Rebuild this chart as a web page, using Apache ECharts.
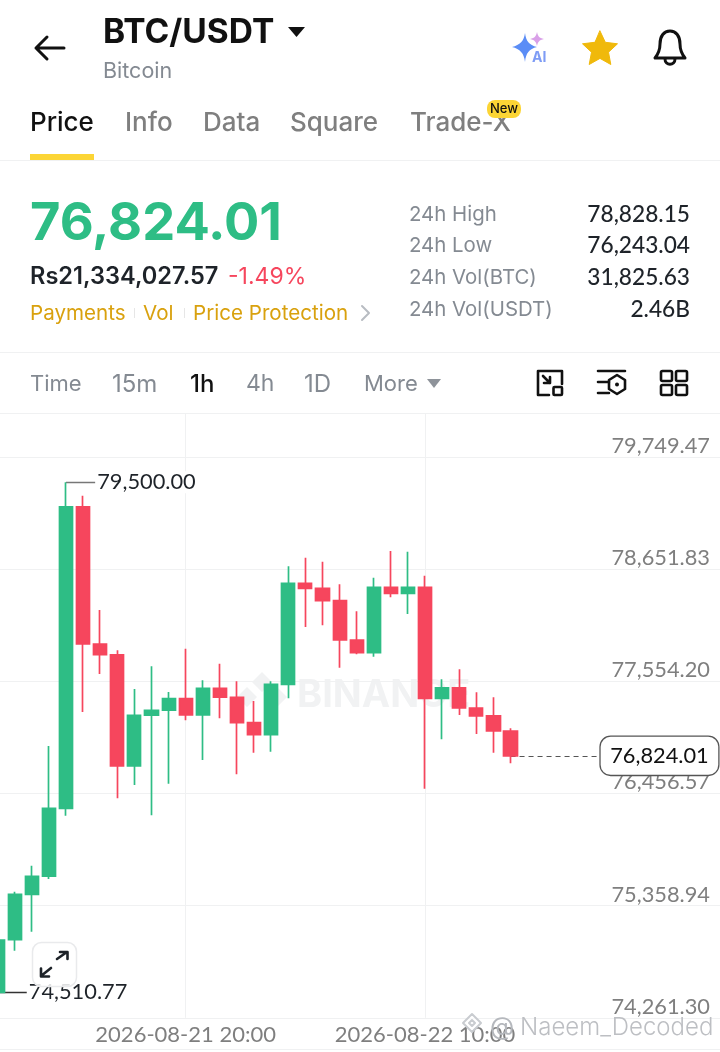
<!DOCTYPE html>
<html><head><meta charset="utf-8">
<style>html,body{margin:0;padding:0;background:#fff}#c{width:720px;height:1052px}</style>
<script src="https://cdn.jsdelivr.net/npm/echarts@6/dist/echarts.min.js"></script>
</head><body><div id="c"></div>
<script>
const categories = [
'2026-08-21 09:00','2026-08-21 10:00','2026-08-21 11:00','2026-08-21 12:00','2026-08-21 13:00','2026-08-21 14:00',
'2026-08-21 15:00','2026-08-21 16:00','2026-08-21 17:00','2026-08-21 18:00','2026-08-21 19:00','2026-08-21 20:00',
'2026-08-21 21:00','2026-08-21 22:00','2026-08-21 23:00','2026-08-22 00:00','2026-08-22 01:00','2026-08-22 02:00',
'2026-08-22 03:00','2026-08-22 04:00','2026-08-22 05:00','2026-08-22 06:00','2026-08-22 07:00','2026-08-22 08:00',
'2026-08-22 09:00','2026-08-22 10:00','2026-08-22 11:00','2026-08-22 12:00','2026-08-22 13:00','2026-08-22 14:00',
'2026-08-22 15:00','2026-08-22 16:00','2026-08-22 17:00','2026-08-22 18:00','2026-08-22 19:00','2026-08-22 20:00',
'2026-08-22 21:00','2026-08-22 22:00','2026-08-22 23:00','2026-08-23 00:00','2026-08-23 01:00','2026-08-23 02:00','2026-08-23 03:00'];
const opens  = [74510.77,75025,75469,75646,76311,79261,77918,77813,76725,77221,77270,77383,77224,77485,77397,77148,77031,77524,78512,78463,78342,77957,77833,78473,78414,78473,77387,77488,77292,77214,77067];
const closes = [75022,75469,75646,76311,79261,77918,77813,76725,77221,77270,77383,77224,77485,77397,77148,77031,77524,78512,78463,78342,77957,77833,78473,78414,78473,77387,77488,77292,77214,77067,76824.01];
const lows   = [74510.77,74918,75104,75619,76238,77253,77625,76409,76539,76243.04,76552,77172,76783,77191,76644,76855,76865,77387,78084,78101,77686,77817,77794,78375,78212,76503,76986,77224,77038,76855,76751];
const highs  = [75022,75495,75749,76920,79500,79369,78251,77857,77478,77700,77449,77872,77563,77726,77553,77361,77553,78678,78763,78723,78502,78238,78567,78828.15,78821,78586,77573,77671,77446,77397,77094];
const yTicks = [74261.30,75358.94,76456.57,77554.20,78651.83,79749.47];
const xLabelled = ['2026-08-21 20:00','2026-08-22 10:00'];
const yMin = 74261.30, yMax = 80173;
const lastPrice = 76824.01, shownHigh = 79500.00, shownLow = 74510.77;
const statLabels = ['24h High','24h Low','24h Vol(BTC)','24h Vol(USDT)'];
const statValues = ['78,828.15','76,243.04','31,825.63','2.46B'];
const tabs = ['Price','Info','Data','Square','Trade-X'];
const periods = ['Time','15m','1h','4h','1D','More'];

const F = 'Inter, "Noto Sans", sans-serif';
const N = 'Lato, Inter, sans-serif';
const DARK = '#1E2329', GREY = '#848A92', LINE = '#F0F1F2', UP = '#2EBD85', DOWN = '#F6465D', GOLD = '#D9A10E';
const fmt = v => v.toLocaleString('en-US',{minimumFractionDigits:2,maximumFractionDigits:2});
const candleData = opens.map((o,i)=>[o,closes[i],lows[i],highs[i]]);

function T(x,y,text,size,color,weight,align,extra,fam){
  return Object.assign({type:'text',x:x,y:y+1.5,silent:true,style:{text:text,font:(weight||400)+' '+size+'px '+(fam||F),fill:color||DARK,textAlign:align||'left',textVerticalAlign:'middle'}},extra||{});
}
let pathCount = 0;
function P(d,stroke,w,fill,extra){
  const name = 'iconPath' + (pathCount++);
  echarts.graphic.registerShape(name, echarts.graphic.extendPath(d));
  return Object.assign({type:name,silent:true,style:{stroke:stroke||'none',lineWidth:w||0,fill:fill||'none',lineCap:'round',lineJoin:'round'}},extra||{});
}
function R(x,y,w,h,fill,r,stroke,lw,extra){
  return Object.assign({type:'rect',silent:true,shape:{x:x,y:y,width:w,height:h,r:r||0},style:{fill:fill,stroke:stroke||'none',lineWidth:lw||0}},extra||{});
}
const tabX=[30,125,203,290,410], perX=[30,112,190,246,304,364], perSize=[22,24,24,23,24,22], statY=[214,245,277,309];
const g = [
  // header
  P('M36 48H64M47 37L36 48L47 59','#111',3),
  T(103,31,'BTC/USDT',33.5,'#111',700),
  P('M288 27H305L296.5 37Z','none',0,'#111'),
  T(103,70,'Bitcoin',21.5,GREY),
  // AI icon
  P('M525 33C526 41 529 45 537 47C529 49 526 53 525 62C524 53 520 49 512 47C520 45 524 41 525 33Z','none',0,'#5B8DF6'),
  P('M537 32C538 36 539 38 544 39C539 40 538 42 537 46C536 42 535 40 530 39C535 38 536 36 537 32Z','none',0,'#D9A0E8'),
  T(532,56,'AI',14,'#7E9CF5',700),
  // star
  P('M600 31L605.3 42.3L617.5 43.8L608.5 52.2L610.8 64.5L600 58.4L589.2 64.5L591.5 52.2L582.5 43.8L594.7 42.3Z','#F0B90B',1,'#F0B90B'),
  // bell
  P('M655 58H685C681 53 680 50 680 44C680 36 676 31 670 31C664 31 660 36 660 44C660 50 659 53 655 58ZM665 59C665 66 675 66 675 59','#111',3),
  // tabs
  ...tabs.map((s,i)=>T(tabX[i],122,s,26,i===0?'#111':'#7F7F7F',500)),
  R(487,100,34,18,'#FCD535',8),
  T(504,107.5,'New',13,'#111',500,'center'),
  R(30,154,64,6,'#FCD535'),
  R(0,160,720,1,LINE),
  // price block
  T(30,223,'76,824.01',52.4,UP,700),
  T(30,275.5,'Rs21,334,027.57',23.6,DARK,600),
  T(228,275.5,'-1.49%',23,DOWN,400),
  T(30,312.5,'Payments',20.6,GOLD,400),
  R(134,308,1,10,'#E6E6E6'),
  T(143,312.5,'Vol',20.6,GOLD,400),
  R(184,308,1,10,'#E6E6E6'),
  T(193,312.5,'Price Protection',20.6,GOLD,400),
  P('M362 306L369 313L362 320','#B8BCC2',2),
  ...statLabels.map((s,i)=>T(409,statY[i]-0.5,s,20.4,GREY)),
  ...statValues.map((s,i)=>T(690,statY[i]-0.5,s,22.7,DARK,500,'right',null,N)),
  R(0,352,720,1,LINE),
  // period bar
  ...periods.map((s,i)=>T(perX[i],383,s,perSize[i],i===2?'#111':GREY,i===2?500:400)),
  P('M427 379H441L434 388Z','none',0,'#8E939A'),
  P('M562 384V371H538V395H549M543 376L550 383M550 377V383H544','#111',2.6),
  R(553.5,387,8.5,8,'none',1,'#111',2.6),
  P('M598 371H625M598 382H609M598 393H609','#111',2.6),
  P('M617 375L625 380V389L617 394L609 389V380Z','#111',2.6),
  R(615,382.5,4,4,'#111',2),
  R(661,371,11,10,'none',1.5,'#111',2.6),
  R(676,371,11,10,'none',1.5,'#111',2.6),
  R(661,385,11,10,'none',1.5,'#111',2.6),
  R(676,385,11,10,'none',1.5,'#111',2.6),
  R(0,413,720,1,LINE),
  // chart watermark
  P('M262 672L272 682L262 692L252 682ZM247 687L257 697L247 707L237 697ZM277 687L287 697L277 707L267 697Z','none',0,'#F1F2F3',{z:-1}),
  T(297,694,'BINANCE',38,'#F1F2F3',700,'left',{z:-1}),
  // expand button
  R(32.5,942.5,44,44,'rgba(255,255,255,0.85)',9,'#E9EAEC',1.5,{z:20}),
  P('M57 959L67 952M60 952H67.5V959M51 968L41 976M41 968.5V976.5H49','#1E2329',2.6,'none',{z:21}),
  // bottom line + author watermark
  R(0,1049,720,1,LINE,0,'none',0,{z:20}),
  P('M472 1014L481 1023L472 1032L463 1023ZM472 1020L475 1023L472 1026L469 1023Z','#C9CCD0',2,'rgba(255,255,255,0.6)',{z:21}),
  T(502,1026,'@',25,'#B5B8BD',400,'center',{z:21}),
  T(520,1026,'Naeem_Decoded',24,'#BDBFC3',300,'left',{z:21})
];

const chart = echarts.init(document.getElementById('c'));
chart.setOption({
  animation:false,
  backgroundColor:'#fff',
  grid:{left:-11,width:735.3,top:413.5,bottom:34.2,containLabel:false,outerBoundsMode:'none'},
  xAxis:{type:'category',data:categories,boundaryGap:true,
    axisLine:{show:true,lineStyle:{color:LINE,width:1}},
    axisTick:{show:false,alignWithLabel:true,interval:(i,v)=>xLabelled.includes(v)},
    axisLabel:{interval:(i,v)=>xLabelled.includes(v),color:'#7F7F7F',fontSize:22,fontFamily:N,margin:7,hideOverlap:false,lineHeight:20},
    splitLine:{show:true,alignWithLabel:true,interval:(i,v)=>xLabelled.includes(v),lineStyle:{color:LINE,width:1}}
  },
  yAxis:{type:'value',position:'right',min:yMin,max:yMax,scale:true,
    axisLine:{show:false},
    axisTick:{show:false,customValues:yTicks},
    axisLabel:{inside:true,margin:14.3,customValues:yTicks,color:'#7F7F7F',fontSize:21.8,fontFamily:N,verticalAlign:'bottom',align:'right',lineHeight:20,padding:[0,0,1,0],showMinLabel:true,showMaxLabel:true,formatter:fmt,hideOverlap:false},
    splitLine:{show:true,lineStyle:{color:LINE,width:1}}
  },
  series:[{
    type:'candlestick',
    data:candleData,
    barWidth:13.6,
    itemStyle:{color:UP,color0:DOWN,borderColor:UP,borderColor0:DOWN,borderWidth:1.7},
    markLine:{silent:true,symbol:'none',z:1,animation:false,label:{show:false},
      data:[
        [{coord:[categories[30],lastPrice],lineStyle:{color:'#555',type:[5,4],width:1.2}},{coord:[categories[36],lastPrice]}],
        [{coord:[categories[4],shownHigh],lineStyle:{color:'#777',type:'solid',width:1.3}},{coord:[categories[6],shownHigh]}],
        [{coord:[categories[0],shownLow],lineStyle:{color:'#333',type:'solid',width:1.3}},{coord:[categories[2],shownLow]}]
      ]},
    markPoint:{silent:true,symbol:'circle',symbolSize:0,animation:false,
      data:[
        {coord:[categories[39],lastPrice],value:lastPrice,label:{show:true,position:'inside',offset:[-5,0],formatter:()=>fmt(lastPrice),color:'#111',fontSize:21.8,fontFamily:N,backgroundColor:'#fff',borderColor:'#555',borderWidth:1.3,borderRadius:10,padding:[8,9.5,8,9.5]}},
        {coord:[categories[6],shownHigh],value:shownHigh,label:{show:true,position:'right',distance:0,offset:[-5,0],formatter:()=>fmt(shownHigh),color:DARK,fontSize:21.8,fontFamily:N,backgroundColor:'#fff',padding:[0,2,0,2]}},
        {coord:[categories[2],shownLow],value:shownLow,label:{show:true,position:'right',distance:0,offset:[-5,0],formatter:()=>fmt(shownLow),color:DARK,fontSize:21.8,fontFamily:N,backgroundColor:'#fff',padding:[0,2,0,2]}}
      ]}
  }],
  graphic:{elements:g}
});
</script></body></html>
